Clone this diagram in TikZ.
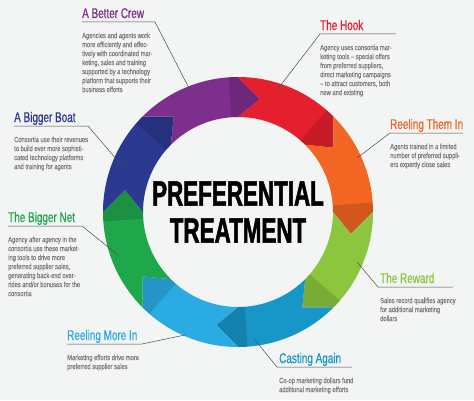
\documentclass[tikz,border=0pt]{standalone}
\usepackage{fontspec}
\setmainfont{Liberation Sans}
\newfontfamily\condfont[FakeStretch=0.71,FakeBold=0.6]{Liberation Sans}
\newfontfamily\descfont[FakeStretch=0.77,FakeBold=0.2]{Liberation Sans}
\newfontfamily\bigfont[FakeStretch=0.64,FakeBold=1.5]{Liberation Sans}
\usetikzlibrary{positioning}
\definecolor{bggray}{HTML}{F3F4F4}
\definecolor{txtgray}{HTML}{7A7A7A}
\definecolor{leadgray}{HTML}{4A4A4A}
\definecolor{crewc}{HTML}{7E2F8E}
\definecolor{hookc}{HTML}{E5202E}
\definecolor{reelc}{HTML}{F26522}
\definecolor{rewc}{HTML}{8CC63F}
\definecolor{castc}{HTML}{1796C8}
\definecolor{morec}{HTML}{2AACE2}
\definecolor{netc}{HTML}{1EA84B}
\definecolor{boatc}{HTML}{2B3990}

\begin{document}
\begin{tikzpicture}[x=1pt,y=1pt,
    ttl/.style={font=\condfont\fontsize{14}{14}\selectfont,inner sep=0pt,anchor=base west},
    desc/.style={font=\descfont\fontsize{7.5}{9}\selectfont,text=txtgray,align=left,inner sep=0pt},
    lead/.style={draw=leadgray,line width=0.5pt}]
  \useasboundingbox[fill=bggray] (0,0) rectangle (474,400);
  \coordinate (c) at (238,188);
  % ring of arrows, clockwise
  \foreach \a/\col in {135/crewc,90/hookc,45/reelc,0/rewc,-45/castc,-90/morec,-135/netc,180/boatc}{
    \fill[\col,shift={(c)}] (\a:135) arc[start angle=\a,end angle=\a-45,radius=135pt]
      -- (\a-56:115) -- (\a-45:95) arc[start angle=\a-45,end angle=\a,radius=95pt]
      -- (\a-11:115) -- cycle;
    % darker tip
    \fill[black,opacity=.13,shift={(c)}] (\a-45:135) -- (\a-56:115) -- (\a-45:95)
      -- (\a-41:95) -- (\a-41:135) -- cycle;
  }
  \node[font=\bigfont\bfseries\fontsize{35}{37}\selectfont,align=center,inner sep=0pt] (pt) at (c) {PREFERENTIAL\\TREATMENT};

  % titles and texts
  \node[ttl,text=crewc] (crew) at (82,382) {A Better Crew};
  \node[desc,below=14.5pt of crew.base west,anchor=north west] (crewtxt) {Agencies and agents work\\more efficiently and effec-\\tively with coordinated mar-\\keting, sales and training\\supported by a technology\\platform that supports their\\business efforts};
  \node[ttl,text=hookc] (hook) at (320,370) {The Hook};
  \node[desc,below=14.5pt of hook.base west,anchor=north west] (hooktxt) {Agency uses consortia mar-\\keting tools – special offers\\from preferred suppliers,\\direct marketing campaigns\\– to attract customers, both\\new and existing};
  \node[ttl,text=reelc] (reel) at (390,271) {Reeling Them In};
  \node[desc,below=14.5pt of reel.base west,anchor=north west] (reeltxt) {Agents trained in a limited\\number of preferred suppli-\\ers expertly close sales};
  \node[ttl,text=rewc] (rew) at (380,117) {The Reward};
  \node[desc,below=14.5pt of rew.base west,anchor=north west] (rewtxt) {Sales record qualifies agency\\for additional marketing\\dollars};
  \node[ttl,text=castc] (cast) at (279,37) {Casting Again};
  \node[desc,below=14.5pt of cast.base west,anchor=north west] (casttxt) {Co-op marketing dollars fund\\additional marketing efforts};
  \node[ttl,text=morec] (more) at (67,60) {Reeling More In};
  \node[desc,below=14.5pt of more.base west,anchor=north west] (moretxt) {Marketing efforts drive more\\preferred supplier sales};
  \node[ttl,text=netc] (net) at (8,178) {The Bigger Net};
  \node[desc,below=14.5pt of net.base west,anchor=north west] (nettxt) {Agency after agency in the\\consortia use these market-\\ing tools to drive more\\preferred supplier sales,\\generating back-end over-\\rides and/or bonuses for the\\consortia};
  \node[ttl,text=boatc] (boat) at (14,278) {A Bigger Boat};
  \node[desc,below=14.5pt of boat.base west,anchor=north west] (boattxt) {Consortia use their revenues\\to build ever more sophisti-\\cated technology platforms\\and training for agents};

  % leader lines
  \coordinate (crewp) at (190,310); \coordinate (crewk) at (155,378);
  \coordinate (hookp) at (277,310); \coordinate (hookk) at (320,366);
  \coordinate (reelp) at (357,242); \coordinate (reelk) at (390,267);
  \coordinate (rewp) at (357,138);  \coordinate (rewk) at (378,113);
  \coordinate (castp) at (255,60);  \coordinate (castk) at (277,33);
  \coordinate (morep) at (185,65);  \coordinate (morek) at (142,56);
  \coordinate (netp) at (118,145);  \coordinate (netk) at (82,174);
  \coordinate (boatp) at (123,233); \coordinate (boatk) at (88,274);
  \draw[lead] (crewp) -- (crewk) -- (crew.base west |- crewk);
  \draw[lead] (hookp) -- (hookk) -- ++(76,0);
  \draw[lead] (reelp) -- (reelk) -- ++(73,0);
  \draw[lead] (rewp) -- (rewk) -- ++(75,0);
  \draw[lead] (castp) -- (castk) -- ++(75,0);
  \draw[lead] (morep) -- (morek) -- (more.base west |- morek);
  \draw[lead] (netp) -- (netk) -- (net.base west |- netk);
  \draw[lead] (boatp) -- (boatk) -- (boat.base west |- boatk);
\end{tikzpicture}
\end{document}
